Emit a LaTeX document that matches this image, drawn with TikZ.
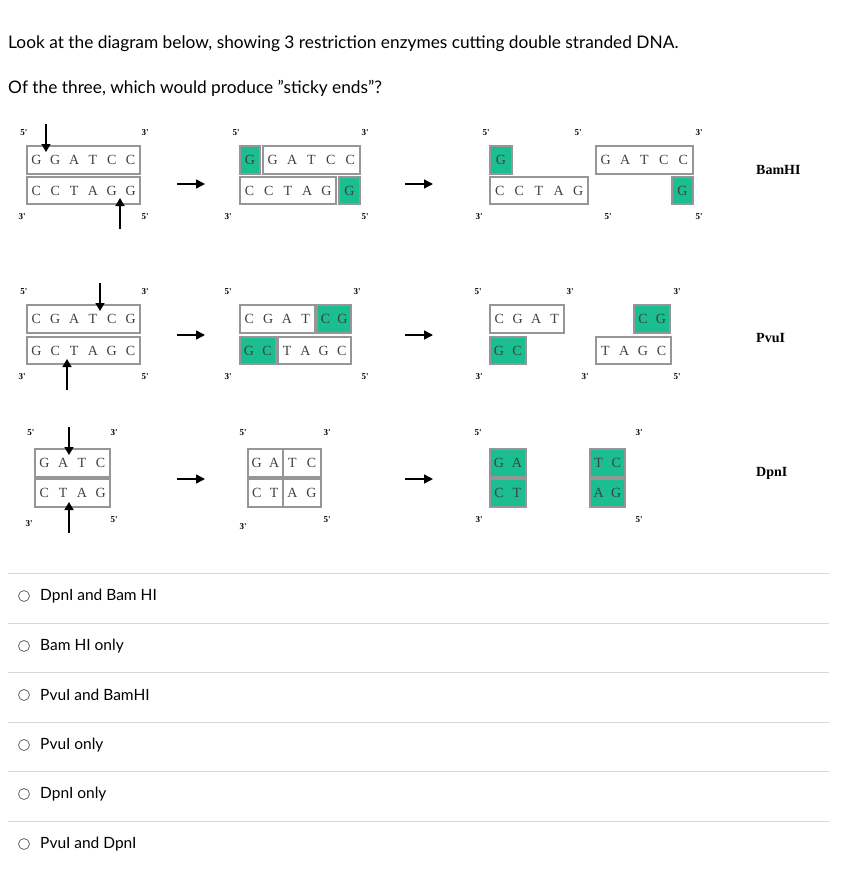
\documentclass[tikz,border=0pt]{standalone}
\usepackage{fontspec}
\setmainfont{Lato}
\newfontfamily\dnafont{Liberation Serif}
\usetikzlibrary{arrows.meta}
\definecolor{tealg}{RGB}{26,190,145}
\definecolor{boxg}{RGB}{150,150,150}
\definecolor{sepg}{RGB}{215,215,215}
\newcommand{\strand}[6][]{% [fill] x1 x2 ytop ybot letters n
  \path[draw=boxg,line width=1.1pt,#1] (#2,#4) rectangle (#3,#5);
  \foreach \c [count=\i] in {#6} \node[dnatxt] at ({#2+(\i-0.5)*(#3-#2)/\nlet},{(#4+#5)/2}) {\c};}
\tikzset{
  dnatxt/.style={font=\dnafont\fontsize{14}{14}\selectfont, text=black!75, inner sep=0},
  prime/.style={font=\dnafont\bfseries\fontsize{9}{9}\selectfont, inner sep=0},
  cut/.style={line width=1.5pt,-{Triangle[length=8pt,width=9pt]}},
  step arrow/.style={line width=1.5pt,-{Triangle[length=9pt,width=9pt]}},
  ename/.style={font=\dnafont\bfseries\fontsize{14}{14}\selectfont, anchor=west, inner sep=0},
  opt/.style={font=\fontsize{15.5}{16}\selectfont, anchor=west, inner sep=0},
  radio/.style={circle, draw=black!60, line width=0.8pt, minimum size=11pt, inner sep=0},
}
\begin{document}
\begin{tikzpicture}[x=1pt,y=-1pt]
\useasboundingbox (0,0) rectangle (847,873);
\node[anchor=west,inner sep=0,font=\fontsize{17.3}{18}\selectfont] (q1) at (8,44) {Look at the diagram below, showing 3 restriction enzymes cutting double stranded DNA.};
\node[anchor=west,inner sep=0,font=\fontsize{17.3}{18}\selectfont] (q2) at (8,88) {Of the three, which would produce "sticky ends"?};

% ---------- BamHI ----------
\def\nlet{6}\strand{27}{140}{146}{174}{G,G,A,T,C,C}
\def\nlet{6}\strand{27}{140}{177}{204}{C,C,T,A,G,G}
\node[prime] at (24,133) {5'}; \node[prime] at (145,133) {3'};
\node[prime] at (22,217) {3'}; \node[prime] at (145,217) {5'};
\coordinate (b1) at (46,124); \coordinate (b1e) at (46,152);
\draw[cut] (b1) -- (b1e);
\coordinate (b2) at (120,229); \coordinate (b2e) at (120,198);
\draw[cut] (b2) -- (b2e);
\coordinate (ba1) at (177,184); \coordinate (ba2) at (205,184);
\draw[step arrow] (ba1) -- (ba2);
\def\nlet{1}\strand[fill=tealg]{240}{260}{146}{174}{G}
\def\nlet{5}\strand{263}{360}{146}{174}{G,A,T,C,C}
\def\nlet{5}\strand{240}{336}{177}{204}{C,C,T,A,G}
\def\nlet{1}\strand[fill=tealg]{339}{360}{177}{204}{G}
\node[prime] at (236,133) {5'}; \node[prime] at (365,133) {3'};
\node[prime] at (228,217) {3'}; \node[prime] at (365,217) {5'};
\coordinate (ba3) at (405,184); \coordinate (ba4) at (433,184);
\draw[step arrow] (ba3) -- (ba4);
\def\nlet{1}\strand[fill=tealg]{490}{512}{146}{174}{G}
\def\nlet{5}\strand{490}{588}{177}{204}{C,C,T,A,G}
\def\nlet{5}\strand{596}{693}{146}{174}{G,A,T,C,C}
\def\nlet{1}\strand[fill=tealg]{672}{693}{177}{204}{G}
\node[prime] at (486,133) {5'}; \node[prime] at (578,133) {5'}; \node[prime] at (699,133) {3'};
\node[prime] at (479,217) {3'}; \node[prime] at (608,217) {5'}; \node[prime] at (699,217) {5'};
\node[ename] (bam) at (756,170) {BamHI};

% ---------- PvuI ----------
\def\nlet{6}\strand{27}{140}{305}{333}{C,G,A,T,C,G}
\def\nlet{6}\strand{27}{140}{337}{364}{G,C,T,A,G,C}
\node[prime] at (24,292) {5'}; \node[prime] at (145,292) {3'};
\node[prime] at (22,377) {3'}; \node[prime] at (145,377) {5'};
\coordinate (p1) at (100,283); \coordinate (p1e) at (100,311);
\draw[cut] (p1) -- (p1e);
\coordinate (p2) at (67,390); \coordinate (p2e) at (67,359);
\draw[cut] (p2) -- (p2e);
\coordinate (pa1) at (177,335); \coordinate (pa2) at (205,335);
\draw[step arrow] (pa1) -- (pa2);
\def\nlet{4}\strand{240}{315}{305}{333}{C,G,A,T}
\def\nlet{2}\strand[fill=tealg]{317}{351}{305}{333}{C,G}
\def\nlet{2}\strand[fill=tealg]{240}{276}{337}{364}{G,C}
\def\nlet{4}\strand{278}{351}{337}{364}{T,A,G,C}
\node[prime] at (228,292) {5'}; \node[prime] at (357,292) {3'};
\node[prime] at (228,377) {3'}; \node[prime] at (365,377) {5'};
\coordinate (pa3) at (405,335); \coordinate (pa4) at (433,335);
\draw[step arrow] (pa3) -- (pa4);
\def\nlet{4}\strand{490}{564}{305}{333}{C,G,A,T}
\def\nlet{2}\strand[fill=tealg]{490}{526}{337}{364}{G,C}
\def\nlet{2}\strand[fill=tealg]{634}{670}{305}{333}{C,G}
\def\nlet{4}\strand{596}{671}{337}{364}{T,A,G,C}
\node[prime] at (478,292) {5'}; \node[prime] at (570,292) {3'}; \node[prime] at (677,292) {3'};
\node[prime] at (479,377) {3'}; \node[prime] at (585,377) {3'}; \node[prime] at (677,377) {5'};
\node[ename] (pvu) at (756,338) {PvuI};

% ---------- DpnI ----------
\def\nlet{4}\strand{35}{110}{449}{477}{G,A,T,C}
\def\nlet{4}\strand{35}{110}{479}{507}{C,T,A,G}
\node[prime] at (31,433) {5'}; \node[prime] at (114,433) {3'};
\node[prime] at (29,524) {3'}; \node[prime] at (114,520) {5'};
\coordinate (d1) at (69,427); \coordinate (d1e) at (69,455);
\draw[cut] (d1) -- (d1e);
\coordinate (d2) at (69,533); \coordinate (d2e) at (69,502);
\draw[cut] (d2) -- (d2e);
\coordinate (da1) at (177,479); \coordinate (da2) at (205,479);
\draw[step arrow] (da1) -- (da2);
\def\nlet{2}\strand{248}{283}{449}{477}{G,A}
\def\nlet{2}\strand{283}{321}{449}{477}{T,C}
\def\nlet{2}\strand{248}{283}{479}{507}{C,T}
\def\nlet{2}\strand{283}{321}{479}{507}{A,G}
\node[prime] at (243,433) {5'}; \node[prime] at (327,433) {3'};
\node[prime] at (243,527) {3'}; \node[prime] at (327,520) {5'};
\coordinate (da3) at (405,479); \coordinate (da4) at (433,479);
\draw[step arrow] (da3) -- (da4);
\def\nlet{2}\strand[fill=tealg]{490}{526}{449}{477}{G,A}
\def\nlet{2}\strand[fill=tealg]{490}{526}{479}{507}{C,T}
\def\nlet{2}\strand[fill=tealg]{590}{625}{449}{477}{T,C}
\def\nlet{2}\strand[fill=tealg]{590}{625}{479}{507}{A,G}
\node[prime] at (478,433) {5'}; \node[prime] at (639,433) {3'};
\node[prime] at (479,520) {3'}; \node[prime] at (639,520) {5'};
\node[ename] (dpn) at (756,473) {DpnI};

% ---------- options ----------
\foreach \y/\t [count=\k] in {596/DpnI and Bam HI, 646/Bam HI only, 695/PvuI and BamHI, 745/PvuI only, 794/DpnI only, 844/PvuI and DpnI}{
  \draw[sepg,line width=0.8pt] (8,\y-23) -- (829,\y-23);
  \node[radio] (r\k) at (24,\y) {};
  \node[opt] (o\k) at (40,\y) {\t};
}
\end{tikzpicture}
\end{document}
